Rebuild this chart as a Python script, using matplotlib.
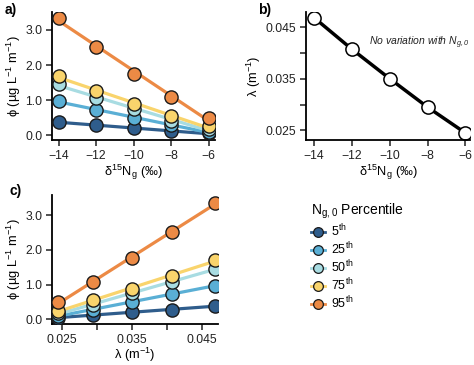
import numpy as np
import matplotlib.pyplot as plt
from matplotlib.lines import Line2D

plt.rcParams["font.family"] = ["Liberation Sans", "DejaVu Sans"]
plt.rcParams["mathtext.default"] = "regular"

d15n = np.array([-14, -12, -10, -8, -6])
lam = np.array([0.0468, 0.0407, 0.0350, 0.0295, 0.0245])

percentiles = ["5", "25", "50", "75", "95"]
phi_5 = [0.38, 0.28, 0.20, 0.12, 0.05]
phi_25 = [0.97, 0.72, 0.50, 0.28, 0.10]
phi_50 = [1.45, 1.07, 0.75, 0.42, 0.17]
phi_75 = [1.70, 1.25, 0.88, 0.55, 0.25]
phi_95 = [3.35, 2.50, 1.75, 1.08, 0.50]
phis = [phi_5, phi_25, phi_50, phi_75, phi_95]
colors = ["#2F5D8C", "#5AAFD5", "#A8DCE2", "#F9D46C", "#EC8A45"]

fig = plt.figure(figsize=(4.74, 3.65), dpi=100)
ax_a = fig.add_axes([0.110, 0.616, 0.344, 0.351])
ax_b = fig.add_axes([0.646, 0.616, 0.346, 0.351])
ax_c = fig.add_axes([0.110, 0.112, 0.350, 0.354])


def style(ax):
    for s in ["top", "right"]:
        ax.spines[s].set_visible(False)
    for s in ["left", "bottom"]:
        ax.spines[s].set_linewidth(1.3)
    ax.tick_params(direction="out", length=4, width=1.1, labelsize=8.8,
                   colors="#222222", pad=3)


def scatter_fit(ax, x):
    for y, c in zip(phis, colors):
        k, b = np.polyfit(x, y, 1)
        xs = np.array([x.min(), x.max()])
        ax.plot(xs, k * xs + b, color=c, lw=2.3, zorder=2,
                solid_capstyle="butt")
    for y, c, p in zip(phis, colors, percentiles):
        ax.plot(x, y, "o", ms=9.5, mfc=c, mec="#1a1a1a", mew=1.0, zorder=3,
                label=p + "$^{th}$")


minus_labels = ["\u221214", "\u221212", "\u221210", "\u22128", "\u22126"]

# a)
style(ax_a)
scatter_fit(ax_a, d15n)
ax_a.set_xlim(-14.35, -5.65)
ax_a.set_ylim(-0.14, 3.51)
ax_a.set_xticks(d15n)
ax_a.set_xticklabels(minus_labels)
ax_a.set_yticks([0, 1, 2, 3])
ax_a.set_yticklabels(["0.0", "1.0", "2.0", "3.0"])
ax_a.set_xlabel("\u03b4$^{15}$N$_g$ (\u2030)", fontsize=9.3, labelpad=1)
ax_a.set_ylabel("\u03d5 (\u00b5g L$^{-1}$ m$^{-1}$)", fontsize=9.3, labelpad=2)

# b)
style(ax_b)
ax_b.plot(d15n, lam, "-o", color="black", lw=2.5, ms=9.5, mfc="white",
          mec="black", mew=1.1)
ax_b.set_xlim(-14.42, -5.74)
ax_b.set_ylim(0.0231, 0.0479)
ax_b.set_xticks(d15n)
ax_b.set_xticklabels(minus_labels)
ax_b.set_yticks([0.025, 0.030, 0.035, 0.040, 0.045])
ax_b.set_yticklabels(["0.025", "", "0.035", "", "0.045"])
ax_b.set_xlabel("\u03b4$^{15}$N$_g$ (\u2030)", fontsize=9.3, labelpad=1)
ax_b.set_ylabel("\u03bb (m$^{-1}$)", fontsize=9.3, labelpad=2)
ax_b.text(0.995, 0.76, "No variation with N$_{g,0}$", transform=ax_b.transAxes,
          ha="right", va="center", fontsize=7.5, style="italic",
          color="#222222")

# c)
style(ax_c)
scatter_fit(ax_c, lam)
ax_c.set_xlim(0.0236, 0.0473)
ax_c.set_ylim(-0.14, 3.58)
ax_c.set_xticks([0.025, 0.030, 0.035, 0.040, 0.045])
ax_c.set_xticklabels(["0.025", "", "0.035", "", "0.045"])
ax_c.set_yticks([0, 1, 2, 3])
ax_c.set_yticklabels(["0.0", "1.0", "2.0", "3.0"])
ax_c.set_xlabel("\u03bb (m$^{-1}$)", fontsize=9.3, labelpad=0)
ax_c.set_ylabel("\u03d5 (\u00b5g L$^{-1}$ m$^{-1}$)", fontsize=9.3, labelpad=2)

# panel letters
fig.text(5 / 474, 1 - 10 / 365, "a)", fontsize=10, fontweight="bold", va="center")
fig.text(258 / 474, 1 - 10 / 365, "b)", fontsize=10, fontweight="bold", va="center")
fig.text(10 / 474, 1 - 191 / 365, "c)", fontsize=10, fontweight="bold", va="center")

# legend
labels = [p + "$^{th}$" for p in percentiles]
handles = [Line2D([], [], color=c, lw=2, marker="o", ms=7, mfc=c, mec="#1a1a1a",
                  mew=0.9) for c in colors]
leg = fig.legend(handles, labels, loc="upper left",
                 bbox_to_anchor=(306 / 474, 1 - 197 / 365), frameon=False,
                 title="N$_{g,0}$ Percentile", fontsize=9, title_fontsize=10,
                 handlelength=1.1, handletextpad=0.5, labelspacing=0.12,
                 borderaxespad=0)
leg._legend_box.align = "left"

fig.savefig("out.png", dpi=100)
